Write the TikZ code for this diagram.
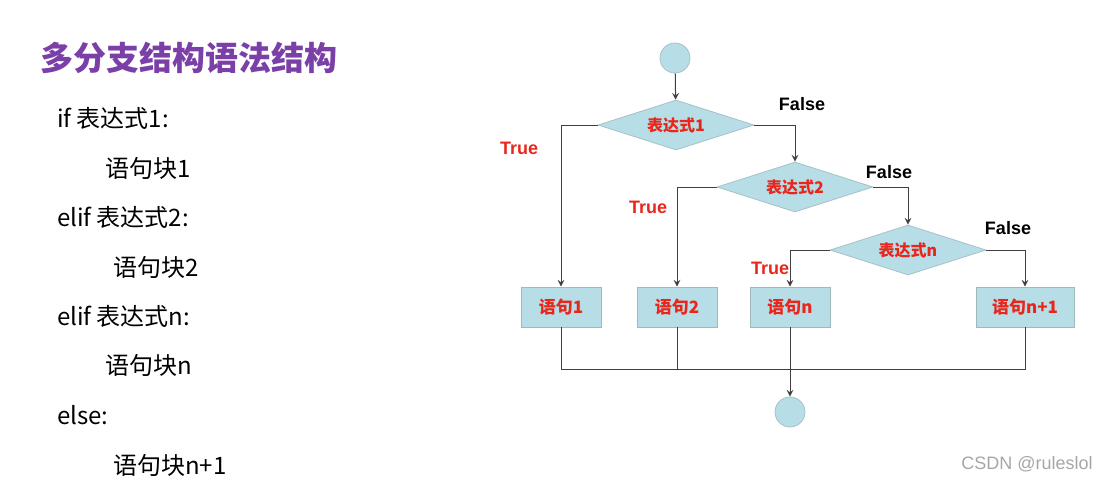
\documentclass[tikz,border=0pt]{standalone}
\usepackage{fontspec}
\setmainfont{Noto Sans CJK SC}
\newfontfamily\arialfont{Liberation Sans}
\usetikzlibrary{shapes.geometric}
\definecolor{boxblue}{HTML}{B7DDE6}
\definecolor{titlepurple}{HTML}{7B3FA8}
\definecolor{truered}{HTML}{E8261B}
\tikzset{
	decide/.style={diamond, aspect=3.1, fill=boxblue, draw=boxblue!70!gray, inner sep=1pt, minimum width=78pt, minimum height=25pt, font=\fontsize{8}{8}\selectfont\bfseries, text=truered},
	stmt/.style={rectangle, fill=boxblue, draw=boxblue!60!gray, minimum height=20pt, font=\fontsize{8.5}{9}\selectfont\bfseries, text=truered},
	terminal/.style={circle, fill=boxblue, draw=boxblue!70!gray, minimum size=15pt, inner sep=0pt},
	flow/.style={draw=black!75, line width=0.5pt},
	truelbl/.style={font=\fontsize{9}{9}\selectfont\arialfont\bfseries, text=truered},
	falselbl/.style={font=\fontsize{9}{9}\selectfont\arialfont\bfseries, text=black},
	code/.style={anchor=west, font=\fontsize{12}{12}\selectfont}
}
\begin{document}
\begin{tikzpicture}[x=0.5pt, y=-0.5pt]
			\useasboundingbox (0,0) rectangle (1108,484);
			% left side text
			\node[anchor=center, font=\fontsize{16.5}{16.5}\selectfont\bfseries, text=titlepurple] (title) at (189,58) {多分支结构语法结构};
			\node[code] (l1) at (50,118) {if 表达式1:};
			\node[code] (l2) at (98,168) {语句块1};
			\node[code] (l3) at (50,217) {elif 表达式2:};
			\node[code] (l4) at (106,267) {语句块2};
			\node[code] (l5) at (50,316) {elif 表达式n:};
			\node[code] (l6) at (98,365) {语句块n};
			\node[code] (l7) at (50,415) {else:};
			\node[code] (l8) at (106,465) {语句块n+1};
			% flowchart
			\node[terminal] (start) at (675,58) {};
			\node[decide] (d1) at (676,125) {表达式1};
			\node[decide] (d2) at (795,187) {表达式2};
			\node[decide] (dn) at (908,250) {表达式n};
			\node[stmt, minimum width=40pt] (s1) at (561,307) {语句1};
			\node[stmt, minimum width=40pt] (s2) at (677,307) {语句2};
			\node[stmt, minimum width=40pt] (sn) at (790,307) {语句n};
			\node[stmt, minimum width=49pt] (sm) at (1025,307) {语句n+1};
			\node[terminal] (stop) at (790,412) {};
			\coordinate (join) at (790,369);
			% arrows
			\draw[flow, -stealth] (start) -- (d1);
			\draw[flow, -stealth] (d1.west) -| (s1.north);
			\draw[flow, -stealth] (d1.east) -| (d2.north);
			\draw[flow, -stealth] (d2.west) -| (s2.north);
			\draw[flow, -stealth] (d2.east) -| (dn.north);
			\draw[flow, -stealth] (dn.west) -| (sn.north);
			\draw[flow, -stealth] (dn.east) -| (sm.north);
			\draw[flow] (s1.south) |- (join) -| (sm.south);
			\draw[flow] (s2.south) -- (s2.south |- join);
			\draw[flow, -stealth] (sn.south) -- (stop);
			% labels
			\node[falselbl] (f1) at (802,104) {False};
			\node[truelbl] (t1) at (519,148) {True};
			\node[falselbl] (f2) at (889,172) {False};
			\node[truelbl] (t2) at (648,207) {True};
			\node[falselbl] (f3) at (1008,228) {False};
			\node[truelbl] (t3) at (770,268) {True};
			\node[font=\fontsize{9}{9}\selectfont\arialfont, text=black!35] (mark) at (1027,464) {CSDN @ruleslol};
\end{tikzpicture}
\end{document}
